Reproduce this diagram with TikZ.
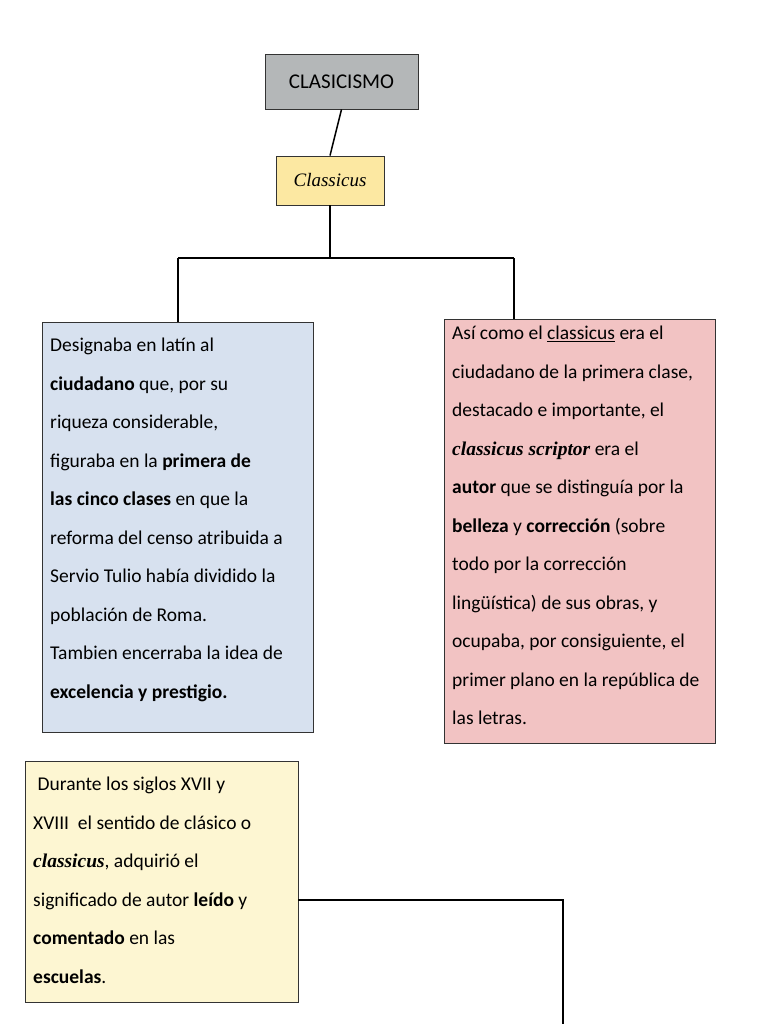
\documentclass[tikz,border=0pt]{standalone}
\usepackage{fontspec}
\setmainfont{Carlito}
\newfontfamily\serifit{Liberation Serif}
\definecolor{grayb}{HTML}{B4B7B8}
\definecolor{yel}{HTML}{FCE8A2}
\definecolor{blu}{HTML}{D7E1EF}
\definecolor{pnk}{HTML}{F2C3C3}
\definecolor{lyel}{HTML}{FDF6D2}
\begin{document}
\begin{tikzpicture}[x=1pt,y=-1pt,
  box/.style={draw=black!80,line width=0.8pt,inner sep=0pt},
  txt/.style={align=left,anchor=north west,inner sep=0pt,font=\fontsize{19.5}{38.5}\selectfont},
  conn/.style={line width=1.5pt}]
\useasboundingbox (0,0) rectangle (768,1024);
\node[box,fill=grayb,minimum width=153pt,minimum height=55pt,font=\fontsize{21}{24}\selectfont] (cl) at (341.5,81.5) {CLASICISMO};
\node[box,fill=yel,minimum width=108pt,minimum height=49pt,font=\fontsize{19}{22}\selectfont\serifit\itshape] (cs) at (330,180.5) {Classicus};
\node[box,fill=blu,minimum width=271pt,minimum height=410pt] (lb) at (177.5,527) {};
\node[box,fill=pnk,minimum width=271pt,minimum height=424pt] (rb) at (579.5,531) {};
\node[box,fill=lyel,minimum width=273pt,minimum height=241pt] (bb) at (161.5,881.5) {};
\coordinate (j) at (330,258);
\coordinate (jl) at (178,258);
\coordinate (jr) at (514,258);
\coordinate (e) at (563,1024);
\draw[conn] (cl.south) -- (cs.north);
\draw[conn] (cs.south) -- (j);
\draw[conn] (jl) -- (jr);
\draw[conn] (jl) -- (jl |- lb.north);
\draw[conn] (jr) -- (jr |- rb.north);
\draw[conn] (bb.east |- 0,900) -| (e);
\node[txt] (lt) at (50,338) {Designaba en latín al\\
\textbf{ciudadano} que, por su\\
riqueza considerable,\\
figuraba en la \textbf{primera de}\\
\textbf{las cinco clases} en que la\\
reforma del censo atribuida a\\
Servio Tulio había dividido la\\
población de Roma.\\
Tambien encerraba la idea de\\
\textbf{excelencia y prestigio.}};
\node[txt] (rt) at (452,326) {Así como el \underline{classicus} era el\\
ciudadano de la primera clase,\\
destacado e importante, el\\
{\serifit\bfseries\itshape classicus scriptor} era el\\
\textbf{autor} que se distinguía por la\\
\textbf{belleza} y \textbf{corrección} (sobre\\
todo por la corrección\\
lingüística) de sus obras, y\\
ocupaba, por consiguiente, el\\
primer plano en la república de\\
las letras.};
\node[txt] (bt) at (33,777) {\ Durante los siglos XVII y\\
XVIII\ \ el sentido de clásico o\\
{\serifit\bfseries\itshape classicus}, adquirió el\\
significado de autor \textbf{leído} y\\
\textbf{comentado} en las\\
\textbf{escuelas}.};
\end{tikzpicture}
\end{document}
